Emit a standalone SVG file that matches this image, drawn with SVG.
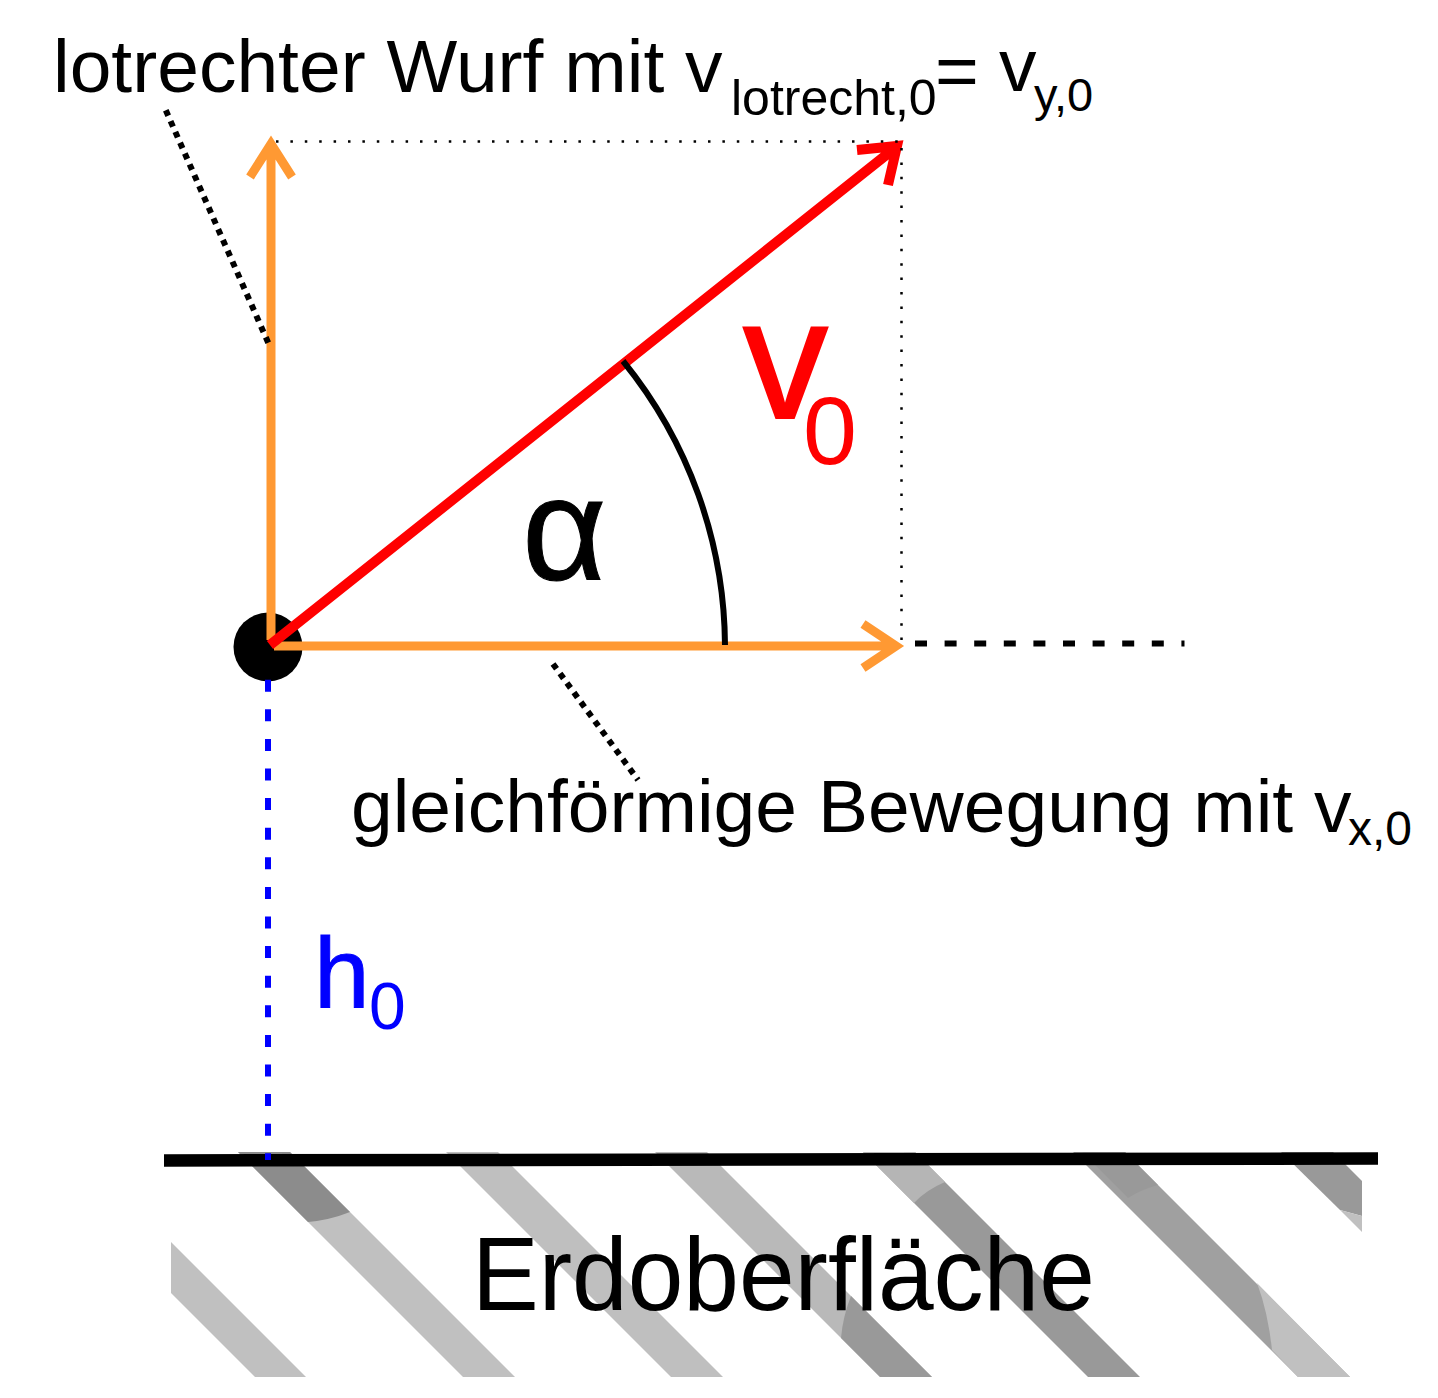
<svg xmlns="http://www.w3.org/2000/svg" width="1438" height="1398" viewBox="0 0 1438 1398">
<style>
text{font-family:"Liberation Sans",Arial,sans-serif;fill:#000}
.or{stroke:#ff9933;stroke-width:9;fill:none;stroke-miterlimit:10}
.re{stroke:#ff0000;stroke-width:10;fill:none;stroke-miterlimit:10}
.lead{stroke:#000;stroke-width:6;stroke-dasharray:6 5.810;fill:none}
.fine{stroke:#000;stroke-width:2.500;stroke-dasharray:2.500 11.900;fill:none}
</style>
<defs><clipPath id="g"><rect x="171" y="1152" width="1191" height="225"/></clipPath></defs>
<rect width="1438" height="1398" fill="#fff"/>
<g id="ground-hatch" clip-path="url(#g)">
<path d="M171 1242L306 1377H255L171 1293Z" fill="#c0c0c0"/>
<path d="M238 1152H290L515 1377H463Z" fill="#c0c0c0"/>
<path d="M238 1152H290L350 1212Q330 1220 308 1222Z" fill="#8c8c8c"/>
<path d="M446 1152H498L723 1377H671Z" fill="#bfbfbf"/>
<path d="M655 1152H707L932 1377H880Z" fill="#b9b9b9"/>
<path d="M851 1296L932 1377H880L841 1338Q843 1316 851 1296Z" fill="#999"/>
<path d="M863 1152H915L1140 1377H1088Z" fill="#999"/>
<path d="M863 1152H915L945 1182Q926 1190 914 1203Z" fill="#b5b5b5"/>
<path d="M1073 1152H1125L1350 1377H1298Z" fill="#a0a0a0"/>
<path d="M1073 1152H1125L1158 1185Q1140 1190 1128 1198L1082 1152Z" fill="#999"/>
<path d="M1257 1283L1350 1377H1298L1272 1350Q1268 1312 1257 1283Z" fill="#c0c0c0"/>
<path d="M1281 1152H1333L1362 1181V1216L1340 1210Z" fill="#999"/>
<path d="M1340 1210L1362 1216V1232Z" fill="#c0c0c0"/>
</g>
<g id="ball"><circle cx="268" cy="647" r="34.500" fill="#000"/></g>
<g id="vy"><path class="or" d="M271 640V146M250 177L271 144L292 177"/></g>
<g id="vx"><path class="or" d="M274 646H896M863 624L896 646L863 668"/></g>
<g id="v0"><path class="re" d="M270 645L895 148M857 150L897 146L888 185"/></g>
<g id="angle"><path d="M623 361A455 455 0 0 1 725 645" stroke="#000" stroke-width="6" fill="none"/></g>
<g id="connectors">
<path class="fine" d="M276 141.500H902"/>
<path class="fine" d="M901.500 148V640"/>
<path class="lead" d="M165.800 110.300L268.200 342.700"/>
<path class="lead" d="M553 664L638 780"/>
<path d="M915 643.500H1184.500" stroke="#000" stroke-width="6" stroke-dasharray="12 17.600" fill="none"/>
<path d="M164 1160.500L1378 1158.500" stroke="#000" stroke-width="12.500" fill="none"/>
<path d="M268 679.700V1160" stroke="#0000ff" stroke-width="6" stroke-dasharray="12 17.600" fill="none"/>
</g>
<g id="labels">
<text x="53" y="92" font-size="75">lotrechter Wurf mit v</text>
<text x="731" y="115" font-size="50">lotrecht,0</text>
<text x="935" y="96" font-size="75">=</text>
<text x="999" y="91" font-size="75">v</text>
<text x="1034" y="110.500" font-size="47">y,0</text>
<text x="743" y="418" font-size="170" style="fill:#f00;stroke:#f00;stroke-width:2">v</text>
<text x="803" y="464" font-size="97" style="fill:#f00">0</text>
<text x="522" y="580" font-size="146" style="stroke:#000;stroke-width:1">α</text>
<text x="351" y="832" font-size="75">gleichförmige Bewegung mit v</text>
<text x="1348" y="845" font-size="48">x,0</text>
<text x="314" y="1008" font-size="100" style="fill:#00f;stroke:#00f;stroke-width:1">h</text>
<text x="369" y="1029" font-size="66" style="fill:#00f">0</text>
<text transform="translate(472 1310) scale(.962 1)" font-size="104">Erdoberfläche</text>
</g>
</svg>
